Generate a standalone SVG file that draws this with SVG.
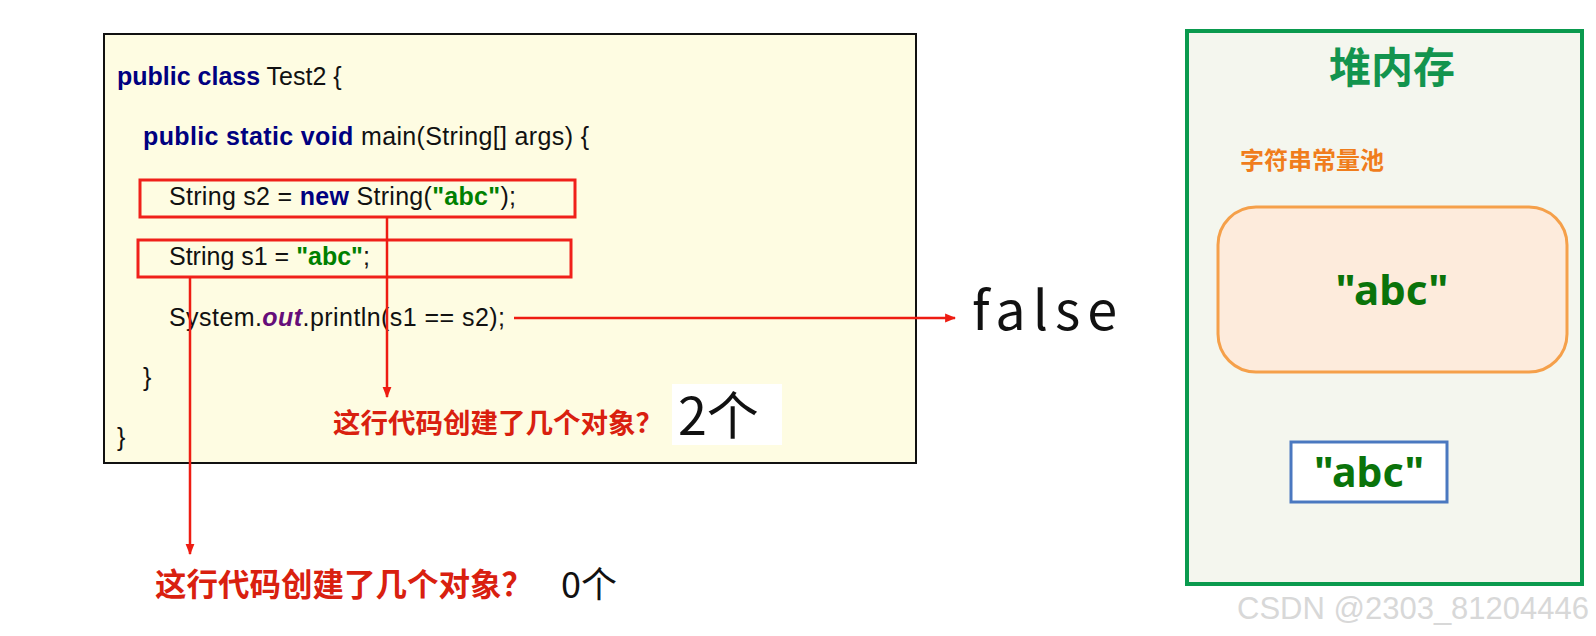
<svg xmlns="http://www.w3.org/2000/svg" width="1596" height="636" viewBox="0 0 1596 636">
<style>
.code{font-family:"Liberation Sans",Arial,sans-serif;font-size:25px;fill:#111}
.kw{fill:#000080;font-weight:bold}
.str{fill:#008000;font-weight:bold}
.fld{fill:#660e7a;font-weight:bold;font-style:italic}
.q{font-family:"Noto Sans CJK SC",sans-serif;font-weight:bold;fill:#d9200f}
.hand{font-family:"Noto Sans CJK SC","DejaVu Sans",sans-serif;fill:#111}
.abc{font-family:"Noto Sans","Open Sans",sans-serif;font-weight:bold;fill:#0a730a;text-anchor:middle}
.hl{fill:none;stroke:#f0201a;stroke-width:3}
.conn{stroke:#ee1c12;stroke-width:2.5;fill:none}
</style>
<defs>
<marker id="ah" viewBox="0 0 10 10" refX="9" refY="5" markerWidth="11" markerHeight="11" markerUnits="userSpaceOnUse" orient="auto">
<path d="M0,1 L10,5 L0,9 z" fill="#ee1c12"/>
</marker>
</defs>
<rect width="1596" height="636" fill="#fff"/>
<g id="code-box">
<rect x="104" y="34" width="812" height="429" fill="#fefce2" stroke="#111" stroke-width="2"/>
<text class="code" x="117" y="85"><tspan class="kw">public class</tspan> Test2 {</text>
<text class="code" x="143" y="145" textLength="446" lengthAdjust="spacing"><tspan class="kw">public static void</tspan> main(String[] args) {</text>
<text class="code" x="169" y="205" textLength="347" lengthAdjust="spacing">String s2 = <tspan class="kw">new</tspan> String(<tspan class="str">"abc"</tspan>);</text>
<text class="code" x="169" y="265">String s1 = <tspan class="str">"abc"</tspan>;</text>
<text class="code" x="169" y="326" textLength="336" lengthAdjust="spacing">System.<tspan class="fld">out</tspan>.println(s1 == s2);</text>
<text class="code" x="143" y="386">}</text>
<text class="code" x="117" y="446">}</text>
</g>
<g id="hl-s2"><rect class="hl" x="140" y="180" width="435" height="37"/></g>
<g id="hl-s1"><rect class="hl" x="138" y="240" width="433" height="37"/></g>
<g id="connectors">
<line class="conn" x1="387" y1="217" x2="387" y2="397" marker-end="url(#ah)"/>
<line class="conn" x1="190" y1="277" x2="190" y2="554" marker-end="url(#ah)"/>
<line class="conn" x1="514" y1="318" x2="955" y2="318" marker-end="url(#ah)"/>
</g>
<g id="q1"><text class="q" x="333" y="433" font-size="27.5">这行代码创建了几个对象？</text></g>
<g id="a1"><rect x="672" y="384" width="110" height="61" fill="#fff"/><text class="hand" x="678" y="435" font-size="52">2个</text></g>
<g id="q2"><text class="q" x="155" y="596" font-size="31.5">这行代码创建了几个对象？</text></g>
<g id="a2"><text class="hand" x="561" y="598" font-size="36">0个</text></g>
<g id="result"><text class="hand" x="972" y="330" font-size="54" letter-spacing="7">false</text></g>
<g id="heap">
<rect x="1187" y="31" width="395" height="553" fill="#f4f6ee" stroke="#0a9a4e" stroke-width="4"/>
<text x="1392" y="83" font-family="Noto Sans CJK SC,sans-serif" font-weight="bold" font-size="42" fill="#13944e" text-anchor="middle">堆内存</text>
<text x="1240" y="169" font-family="Noto Sans CJK SC,sans-serif" font-weight="bold" font-size="24" fill="#f07d1c">字符串常量池</text>
</g>
<g id="pool">
<rect x="1218" y="207" width="349" height="165" rx="38" fill="#fdebdc" stroke="#f5a04a" stroke-width="3"/>
<text class="abc" x="1392" y="305" font-size="42">"abc"</text>
</g>
<g id="heap-obj">
<rect x="1291" y="442" width="156" height="60" fill="#fff" stroke="#4a78c0" stroke-width="3"/>
<text class="abc" x="1369" y="487" font-size="41">"abc"</text>
</g>
<text x="1237" y="619" font-family="Liberation Sans,Arial,sans-serif" font-size="31" fill="#d8d8d8">CSDN @2303_81204446</text>
</svg>
